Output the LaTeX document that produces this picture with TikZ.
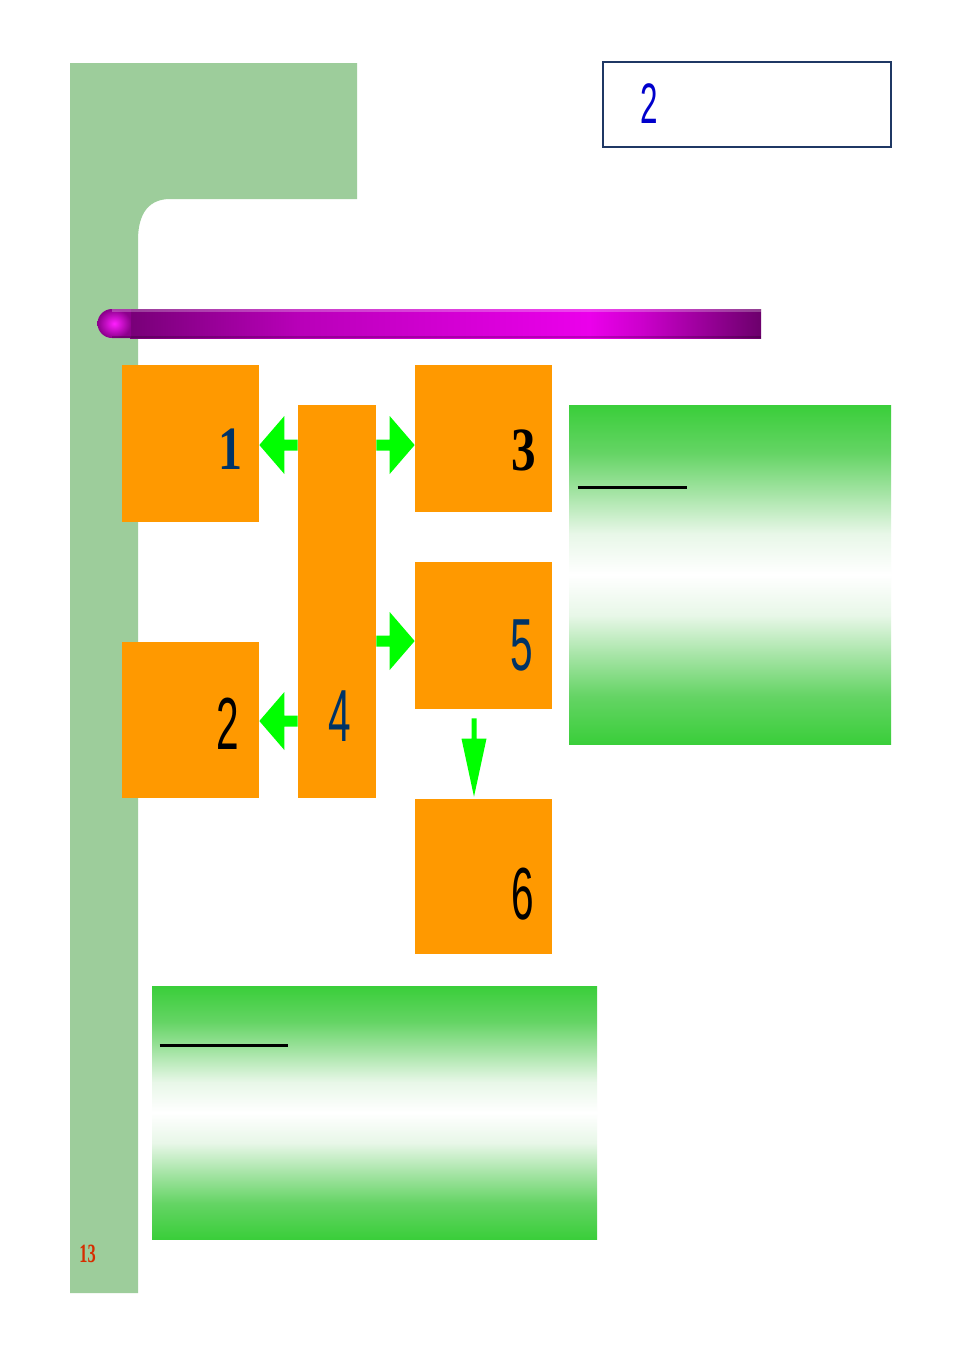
\documentclass[tikz,border=0pt]{standalone}
\usepackage{fontspec}
\setmainfont{Liberation Serif}
\newfontfamily\sansnum{Liberation Sans}
\usepackage{graphicx}
\usetikzlibrary{calc}
\newcommand\narrowx[2]{\scalebox{#1}[1]{#2}}
\definecolor{sidegreen}{RGB}{157,205,155}
\definecolor{boxorange}{RGB}{255,153,0}
\definecolor{arrowgreen}{RGB}{0,255,0}
\definecolor{gradgreen}{RGB}{58,206,58}
\definecolor{gradmid}{RGB}{100,212,100}
\definecolor{gradlight}{RGB}{165,228,165}
\definecolor{gradpale}{RGB}{232,247,232}
\definecolor{numblue}{RGB}{0,51,102}
\definecolor{topblue}{RGB}{0,0,204}
\definecolor{frameblue}{RGB}{31,56,100}
\definecolor{pagered}{RGB}{215,45,0}
\definecolor{magA}{RGB}{120,0,120}
\definecolor{magB}{RGB}{185,0,185}
\definecolor{magC}{RGB}{235,0,235}
\definecolor{magD}{RGB}{205,0,205}
\definecolor{magE}{RGB}{108,0,108}
\definecolor{magHi}{RGB}{255,30,255}
\definecolor{magLo}{RGB}{140,0,140}
\pgfdeclarehorizontalshading{magbar}{100bp}{color(0bp)=(magA); color(25bp)=(magA); color(38.5bp)=(magB); color(61.4bp)=(magC); color(65.4bp)=(magD); color(75bp)=(magE); color(100bp)=(magE)}
\pgfdeclareverticalshading{greenband}{100bp}{color(0bp)=(gradgreen); color(25bp)=(gradgreen); color(32bp)=(gradmid); color(38bp)=(gradlight); color(44bp)=(gradpale); color(50bp)=(white); color(56bp)=(gradpale); color(62bp)=(gradlight); color(68bp)=(gradmid); color(75bp)=(gradgreen); color(100bp)=(gradgreen)}
\tikzset{
  obox/.style 2 args={fill=boxorange, draw=none, inner sep=0pt,
    minimum width=#1*0.02cm, minimum height=#2*0.02cm},
  gbox/.style 2 args={draw=none, inner sep=0pt, shading=greenband,
    minimum width=#1*0.02cm, minimum height=#2*0.02cm},
  sansdigit/.style={inner sep=0pt, font=\sansnum\fontsize{42}{42}\selectfont},
  serifdigit/.style={inner sep=0pt, font=\bfseries\fontsize{35}{35}\selectfont},
  garrow/.style={fill=arrowgreen, draw=none},
  uline/.style={draw=black, line width=0.06cm},
}
\begin{document}
\begin{tikzpicture}[x=0.02cm, y=-0.02cm]
\useasboundingbox (0,0) rectangle (960,1357);
\fill[white] (0,0) rectangle (960,1357);

% green sidebar with rounded inner corner
\fill[sidegreen] (70,63) -- (357,63) -- (357,199) -- (170,199)
  .. controls (150,199) and (138,212) .. (138,240) -- (138,1293) -- (70,1293) -- cycle;

% top-right framed box
\node[draw=frameblue, line width=0.025cm, fill=white, inner sep=0pt,
  minimum width=288*0.02cm, minimum height=85*0.02cm] (tb) at (747,104.5) {};
\node[inner sep=0pt, text=topblue, font=\sansnum\fontsize{32.5}{32.5}\selectfont]
  (tbt) at (649.5,103.5) {\narrowx{0.55}{2}};

% magenta bar
\shade[shading=magbar] (130,309) rectangle (761,338);
\shade[inner color=magHi, outer color=magLo] (131,309) -- (112,309)
  .. controls (104,309) and (97.5,315.5) .. (97.5,323.5)
  .. controls (97.5,331.5) and (104,338) .. (112,338) -- (131,338) -- cycle;
\fill[white, opacity=0.25] (112,309) rectangle (761,311.5);
\fill[black, opacity=0.2] (112,335.5) rectangle (761,338);

% orange boxes
\node[obox={137}{157}] (b1) at (190.5,443.5) {};
\node[obox={78}{393}]  (b4) at (337,601.5) {};
\node[obox={137}{147}] (b3) at (483.5,438.5) {};
\node[obox={137}{147}] (b5) at (483.5,635.5) {};
\node[obox={137}{156}] (b2) at (190.5,720) {};
\node[obox={137}{155}] (b6) at (483.5,876.5) {};

% digits
\node[serifdigit, text=numblue] (t1) at (230,449) {\narrowx{0.78}{1}};
\node[serifdigit, text=black]   (t3) at (523.5,450.5) {\narrowx{0.8}{3}};
\node[sansdigit, text=numblue]  (t5) at (522,645) {\narrowx{0.55}{5}};
\node[sansdigit, text=black]    (t2) at (227.5,723.5) {\narrowx{0.55}{2}};
\node[sansdigit, text=numblue]  (t4) at (340,716.5) {\narrowx{0.55}{4}};
\node[sansdigit, text=black]    (t6) at (523,894) {\narrowx{0.55}{6}};

% arrows 4 -> 1
\coordinate (s41) at (b4.west |- 0,445);
\coordinate (e41) at (b1.east |- 0,445);
\fill[garrow] ($(s41)+(0,-5.5)$) -- ($(e41)+(25,-5.5)$) -- ($(e41)+(25,-29)$) -- (e41)
  -- ($(e41)+(25,29)$) -- ($(e41)+(25,5.5)$) -- ($(s41)+(0,5.5)$) -- cycle;
% 4 -> 3
\coordinate (s43) at (b4.east |- 0,445);
\coordinate (e43) at (b3.west |- 0,445);
\fill[garrow] ($(s43)+(0,-5.5)$) -- ($(e43)+(-25,-5.5)$) -- ($(e43)+(-25,-29)$) -- (e43)
  -- ($(e43)+(-25,29)$) -- ($(e43)+(-25,5.5)$) -- ($(s43)+(0,5.5)$) -- cycle;
% 4 -> 5
\coordinate (s45) at (b4.east |- 0,641);
\coordinate (e45) at (b5.west |- 0,641);
\fill[garrow] ($(s45)+(0,-5.5)$) -- ($(e45)+(-25,-5.5)$) -- ($(e45)+(-25,-29)$) -- (e45)
  -- ($(e45)+(-25,29)$) -- ($(e45)+(-25,5.5)$) -- ($(s45)+(0,5.5)$) -- cycle;
% 4 -> 2
\coordinate (s42) at (b4.west |- 0,721);
\coordinate (e42) at (b2.east |- 0,721);
\fill[garrow] ($(s42)+(0,-5.5)$) -- ($(e42)+(25,-5.5)$) -- ($(e42)+(25,-29)$) -- (e42)
  -- ($(e42)+(25,29)$) -- ($(e42)+(25,5.5)$) -- ($(s42)+(0,5.5)$) -- cycle;
% 5 -> 6
\coordinate (s56) at ($(b5.south)+(-9.5,9)$);
\coordinate (e56) at ($(s56 |- b6.north)+(0,-2)$);
\fill[garrow] ($(s56)+(-2.5,0)$) -- ($(e56)+(-2.5,-58)$) -- ($(e56)+(-12.5,-58)$) -- (e56)
  -- ($(e56)+(12.5,-58)$) -- ($(e56)+(2.5,-58)$) -- ($(s56)+(2.5,0)$) -- cycle;

% green gradient panels
\node[gbox={322}{339}] (g1) at (730,574.5) {};
\node[gbox={445}{253}] (g2) at (374.5,1112.5) {};
\draw[uline] ($(g1.north west)+(9,83)$) coordinate (l1a) -- ($(g1.north west)+(118,83)$) coordinate (l1b);
\draw[uline] ($(g2.north west)+(8,60)$) coordinate (l2a) -- ($(g2.north west)+(136,60)$) coordinate (l2b);

% page number
\node[inner sep=0pt, text=pagered, font=\bfseries\fontsize{15}{15}\selectfont] (pg) at (87.5,1254) {\narrowx{0.62}{13}};
\end{tikzpicture}
\end{document}
